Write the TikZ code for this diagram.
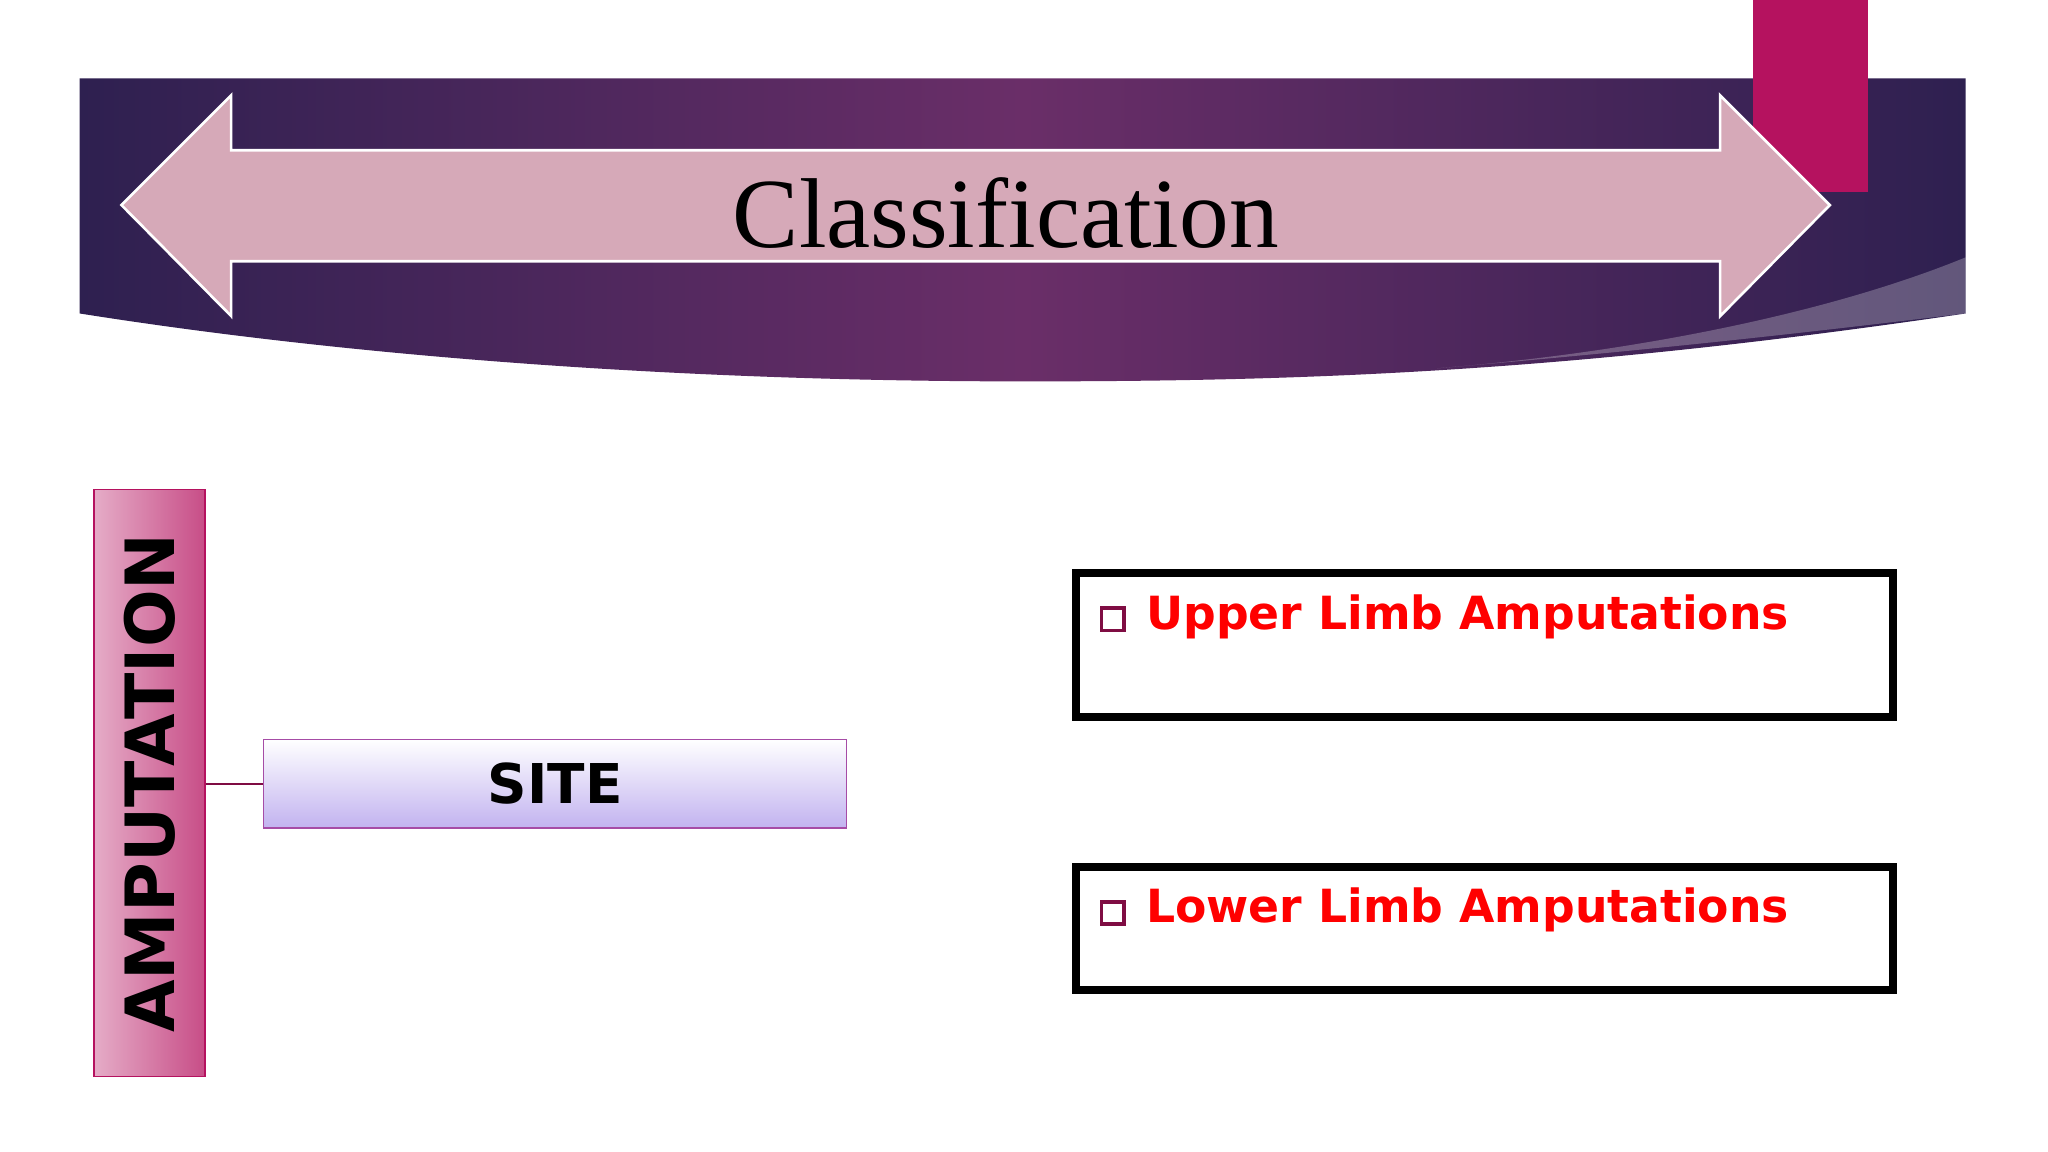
\documentclass[tikz,border=0pt]{standalone}
\usepackage{fontspec}
\setmainfont{DejaVu Sans}
\newfontfamily\scriptf{Liberation Serif}
\usetikzlibrary{shadings}
\definecolor{bannerA}{HTML}{2E2050}
\definecolor{bannerB}{HTML}{6A2E68}
\definecolor{magentabar}{HTML}{B5125F}
\definecolor{arrowpink}{HTML}{D6A9B8}
\tikzset{
  outbox/.style={draw=black, line width=6pt},
  itemtxt/.style={anchor=west, text=red, font=\bfseries\fontsize{35}{40}\selectfont},
  bullet/.style={draw=magentabar!70!black, fill=white, line width=2.5pt, minimum size=17pt, inner sep=0pt}
}
\begin{document}
\begin{tikzpicture}[x=1pt,y=-1pt]
\useasboundingbox (0,0) rectangle (1568,882);
\fill[white] (0,0) rectangle (1568,882);
% banner
\shade[left color=bannerA, right color=bannerA, middle color=bannerB]
  (61,60) -- (1505,60) -- (1505,240) .. controls (1200,285) and (1000,292) .. (784,292)
  .. controls (500,292) and (250,270) .. (61,240) -- cycle;
\fill[white, opacity=0.25] (1505,197) .. controls (1400,240) and (1250,270) .. (1100,282)
  .. controls (1300,265) and (1420,250) .. (1505,240) -- cycle;
\fill[magentabar] (1342,0) rectangle (1430,147);
% double arrow
\filldraw[draw=white, line width=2pt, fill=arrowpink]
  (93,157) -- (177,73) -- (177,115) -- (1317,115) -- (1317,73) -- (1401,157)
  -- (1317,242) -- (1317,200) -- (177,200) -- (177,242) -- cycle;
\node (title) at (770,163) {\scriptf\fontsize{76}{86}\selectfont Classification};
% amputation
\shade[left color=magentabar!35, right color=magentabar!75] (72,375) rectangle (157,824);
\node[draw=magentabar, line width=1pt, minimum width=85pt, minimum height=449pt, inner sep=0pt] (amp) at (114.5,599.5) {};
\node[rotate=90, font=\bfseries\fontsize{52}{58}\selectfont] at (amp.center) {AMPUTATION};
% site
\node[draw=violet!70, line width=1pt, minimum width=446pt, minimum height=68pt, inner sep=0pt,
  top color=white, bottom color=violet!40!blue!30, font=\bfseries\fontsize{42}{48}\selectfont] (site) at (425,600) {SITE};
\draw[magentabar!70!black, line width=1.5pt] (amp.east |- site.west) -- (site.west);
% boxes
\node[outbox, minimum width=625pt, minimum height=110pt, inner sep=0pt] (up) at (1136.5,494) {};
\node[outbox, minimum width=625pt, minimum height=94pt, inner sep=0pt] (low) at (1136.5,711) {};
\node[bullet] (b1) at (852,474) {};
\node[itemtxt] (t1) at (874,472) {Upper Limb Amputations};
\node[bullet] (b2) at (852,699) {};
\node[itemtxt] (t2) at (874,697) {Lower Limb Amputations};
\end{tikzpicture}
\end{document}
